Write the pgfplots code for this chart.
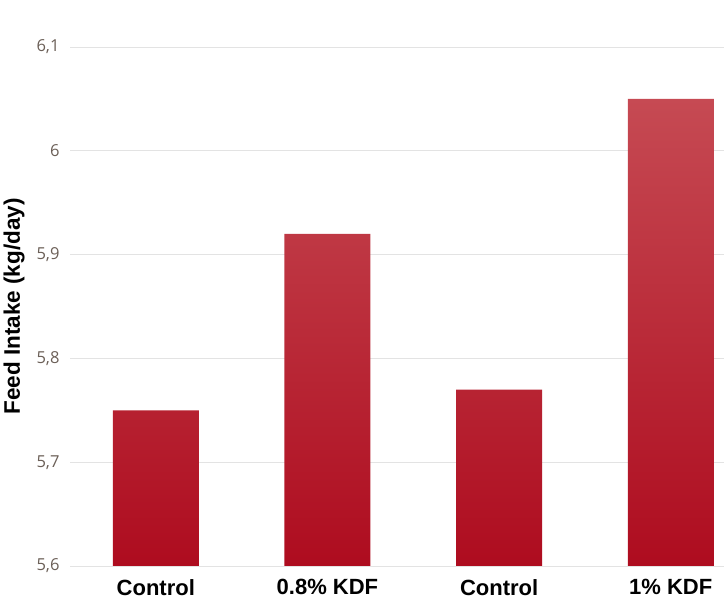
\documentclass[border=0pt]{standalone}
\usepackage{fontspec}
\setmainfont{Liberation Sans}
\newfontfamily\tickfont{Open Sans}
\usepackage{pgfplots}
\pgfplotsset{compat=1.18}
\usetikzlibrary{calc}
\definecolor{bartop}{HTML}{C64A53}
\definecolor{barmid}{HTML}{BF1529}
\definecolor{barbot}{HTML}{AE0C1F}
\definecolor{tickgray}{HTML}{6B5F57}
\definecolor{gridgray}{HTML}{E3E3E3}
\begin{document}
\begin{tikzpicture}
\begin{axis}[
    scale only axis,
    width=654pt, height=519pt,
    ybar, bar width=86pt,
    % bars start at 5,6: values are shifted down by the filter
    y filter/.expression={y-5.6},
    ymin=0, ymax=0.5,
    ytick={0,0.1,0.2,0.3,0.4,0.5},
    yticklabels={{5,6},{5,7},{5,8},{5,9},{6},{6,1}},
    xmin=-0.5, xmax=3.31,
    xtick=data,
    xticklabels={Control,0.8\% KDF,Control,1\% KDF},
    axis line style={draw=none},
    major tick length=0pt,
    ymajorgrids,
    grid style={gridgray, line width=0.8pt},
    yticklabel style={font=\tickfont\fontsize{16.5}{19}\selectfont, text=tickgray, anchor=east, xshift=-7pt},
    xticklabel style={font=\bfseries\fontsize{22}{25}\selectfont, text=black, anchor=north, yshift=-10pt},
    ylabel={Feed Intake (kg/day)},
    every axis y label/.style={at={(rel axis cs:0,0.5)}, xshift=-56pt, rotate=90, anchor=center, font=\bfseries\fontsize{22.5}{25}\selectfont},
]
\addplot[draw=none, top color=bartop, middle color=barmid, bottom color=barbot]
    coordinates {(0,5.75) (1,5.92) (2,5.77) (3,6.05)};
\end{axis}
\pgfresetboundingbox
\path ($(current axis.south west)+(-70pt,-46pt)$) rectangle ($(current axis.north east)+(0pt,47pt)$);
\end{tikzpicture}
\end{document}
